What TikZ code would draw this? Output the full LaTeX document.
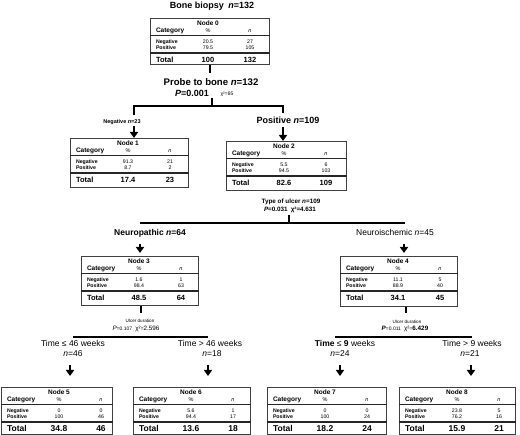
\documentclass[tikz,border=0pt]{standalone}
\usepackage{fontspec}
\setmainfont{Liberation Sans}
\usetikzlibrary{arrows.meta,calc}

\newcommand{\fs}[1]{\fontsize{#1}{#1}\selectfont}
\def\tbvals#1/#2/#3/#4/#5/#6\relax{\def\vNa{#1}\def\vNb{#2}\def\vPa{#3}\def\vPb{#4}\def\vTa{#5}\def\vTb{#6}}
\def\totsize{7.5}

\tikzset{
  base/.style={inner sep=0pt, outer sep=0pt, text height=0.72em, text depth=0.2em},
  nbox/.style={draw=black!75, line width=0.8pt, rectangle, inner sep=0pt},
  tb hdr/.style={base, font=\fs{6.5}\bfseries},
  tb cat/.style={base, font=\fs{6.5}\bfseries},
  tb col/.style={base, font=\fs{5.5}},
  tb row/.style={base, font=\fs{5.2}\bfseries},
  tb val/.style={base, font=\fs{5.2}},
  tb tot/.style={base, font=\fs{\totsize}\bfseries},
  tb rule/.style={line width=0.7pt, draw=black!85},
  tb rule2/.style={line width=1.1pt, draw=black!85},
  lab9/.style={base, font=\fs{9}\bfseries},
  lab95/.style={base, font=\fs{9.6}\bfseries},
  lab8b/.style={base, font=\fs{8.5}\bfseries},
  lab8/.style={base, font=\fs{8.5}},
  lab6b/.style={base, font=\fs{6.3}\bfseries},
  lab6/.style={base, font=\fs{6.3}},
  lab5/.style={base, font=\fs{5}},
  trunk/.style={line width=2.6pt, line join=miter},
  arr/.style={line width=2.4pt, -{Triangle[width=8pt,length=6pt]}},
}

% #1 name, #2 top-left, #3 width, #4 height, #5 node number, #6 values
\newcommand{\treebox}[6]{%
  \tbvals#6\relax
  \node[nbox, minimum width=#3pt, minimum height=#4pt, anchor=north west] (#1) at (#2) {};
  \node[tb hdr] (#1-nd) at ($(#1.north west)+(58,4.5)$) {Node #5};
  \node[tb cat, anchor=west] (#1-cat) at ($(#1.north west)+(6,11.5)$) {Category};
  \node[tb col] (#1-pc) at ($(#1.north west)+(58,11.5)$) {\%};
  \node[tb col] (#1-nn) at ($(#1.north west)+(100,11.5)$) {\textit{n}};
  \draw[tb rule] ($(#1.north west)+(0,17.5)$) -- ($(#1.north east)+(0,17.5)$);
  \node[tb row, anchor=west] (#1-neg) at ($(#1.north west)+(6,22.5)$) {Negative};
  \node[tb val] (#1-nega) at ($(#1.north west)+(58,22.5)$) {\vNa};
  \node[tb val] (#1-negb) at ($(#1.north west)+(100,22.5)$) {\vNb};
  \node[tb row, anchor=west] (#1-pos) at ($(#1.north west)+(6,28.5)$) {Positive};
  \node[tb val] (#1-posa) at ($(#1.north west)+(58,28.5)$) {\vPa};
  \node[tb val] (#1-posb) at ($(#1.north west)+(100,28.5)$) {\vPb};
  \draw[tb rule2] ($(#1.north west)+(0,35)$) -- ($(#1.north east)+(0,35)$);
  \node[tb tot, anchor=west] (#1-tot) at ($(#1.north west)+(6,42)$) {Total};
  \node[tb tot] (#1-tota) at ($(#1.north west)+(58,42)$) {\vTa};
  \node[tb tot] (#1-totb) at ($(#1.north west)+(100,42)$) {\vTb};
}

\begin{document}
\begin{tikzpicture}[x=1pt,y=-1pt]
\useasboundingbox (0,0) rectangle (520,435);
\fill[white] (0,0) rectangle (520,435);

% ---- root ----
\node[lab9] (title) at (212,6) {Bone biopsy\enspace\textit{n}=132};
\treebox{n0}{150,18}{119}{46}{0}{20.5/27/79.5/105/100/132}

\coordinate (r0) at (210,73);
\draw[trunk] (n0.south -| r0) -- (r0);
\node[lab95] (probe) at (211,83) {Probe to bone \textit{n}=132};
\node[lab9] (p0) at (192,93.5) {\textit{P}=0.001};
\node[lab5] (chi0) at (227,93) {χ²=85};
\coordinate (r1) at (212,98);
\coordinate (bL) at (134,106);
\coordinate (bR) at (283,106);
\coordinate (bL2) at (134,115);
\coordinate (bR2) at (283,113);
\draw[trunk] (r1) -- (r1 |- bL);
\draw[trunk] (bL2) -- (bL) -- (bR) -- (bR2);

\node[lab5, font=\fs{5.5}\bfseries] (negl) at (122,121) {Negative \textit{n}=23};
\node[lab9] (posl) at (288,121) {Positive \textit{n}=109};
\coordinate (a1) at (134,126);
\coordinate (a2) at (283,127);

\treebox{n1}{70,138}{118}{49}{1}{91.3/21/8.7/2/17.4/23}
\treebox{n2}{226,141}{120}{49}{2}{5.5/6/94.5/103/82.6/109}
\draw[arr] (a1) -- (a1 |- n1.north);
\draw[arr] (a2) -- (a2 |- n2.north);

% ---- type of ulcer ----
\node[lab6b] (ulc) at (291,201) {Type of ulcer \textit{n}=109};
\node[lab6b] (ulcp) at (290,208.5) {\textit{P}=0.031\enspace χ²=4.631};
\coordinate (t2) at (289,215);
\coordinate (b2L) at (140,223);
\coordinate (b2R) at (405,223);
\draw[trunk] (t2) -- (t2 |- b2L);
\draw[trunk] (b2L) -- (b2R);

\node[lab8b] (neup) at (150,233) {Neuropathic \textit{n}=64};
\node[lab8] (neui) at (395,233) {Neuroischemic \textit{n}=45};
\coordinate (a3) at (140,244);
\coordinate (a4) at (404,244);

\treebox{n3}{81,256}{117}{49}{3}{1.6/1/98.4/63/48.5/64}
\treebox{n4}{340,256}{117}{50}{4}{11.1/5/88.9/40/34.1/45}
\draw[arr, shorten >=3pt] (a3) -- (a3 |- n3.north);
\draw[arr, shorten >=3pt] (a4) -- (a4 |- n4.north);

% ---- ulcer duration (left) ----
\coordinate (t3) at (141,313);
\draw[trunk] (n3.south -| t3) -- (t3);
\node[lab5, font=\fs{4.6}] (ud3) at (140,320) {Ulcer duration};
\node[lab6] (ud3p) at (136,328) {\textit{P}{\fs{5}=0.107}\enspace χ²{\fs{5}=}2.596};
\coordinate (b3L) at (73,337);
\coordinate (b3R) at (208,337);
\draw[trunk] (b3L) -- (b3R);

% ---- ulcer duration (right) ----
\coordinate (t4) at (406,313);
\draw[trunk] (n4.south -| t4) -- (t4);
\node[lab5, font=\fs{4.6}] (ud4) at (407,321) {Ulcer duration};
\node[lab6] (ud4p) at (405,328) {\textbf{\textit{P}}{\fs{5}=0.011}\enspace χ²{\fs{5}=}\textbf{6.429}};
\coordinate (b4L) at (335,337);
\coordinate (b4R) at (472,337);
\draw[trunk] (b4L) -- (b4R);

% ---- leaf labels ----
\node[lab8] (l5) at (73,344) {Time ≤ 46 weeks};
\node[lab8] (l5n) at (73,354) {\textit{n}=46};
\node[lab8] (l6) at (210,344) {Time > 46 weeks};
\node[lab8] (l6n) at (212,354) {\textit{n}=18};
\node[lab8] (l7) at (345,344) {\textbf{Time} ≤ \textbf{9} weeks};
\node[lab8] (l7n) at (340,354) {\textit{n}=24};
\node[lab8] (l8) at (472,344) {Time > 9 weeks};
\node[lab8] (l8n) at (470,354) {\textit{n}=21};

\coordinate (a5) at (70,365);
\coordinate (a6) at (208,365);
\coordinate (a7) at (340,365);
\coordinate (a8) at (471,365);

\def\totsize{8.5}
\treebox{n5}{1,387}{111}{47}{5}{0/0/100/46/34.8/46}
\treebox{n6}{133,387}{117}{47}{6}{5.6/1/94.4/17/13.6/18}
\treebox{n7}{267,387}{119}{47}{7}{0/0/100/24/18.2/24}
\treebox{n8}{399,387}{116}{47}{8}{23.8/5/76.2/16/15.9/21}

\draw[arr, shorten >=11pt] (a5) -- (a5 |- n5.north);
\draw[arr, shorten >=11pt] (a6) -- (a6 |- n6.north);
\draw[arr, shorten >=11pt] (a7) -- (a7 |- n7.north);
\draw[arr, shorten >=11pt] (a8) -- (a8 |- n8.north);
\end{tikzpicture}
\end{document}
